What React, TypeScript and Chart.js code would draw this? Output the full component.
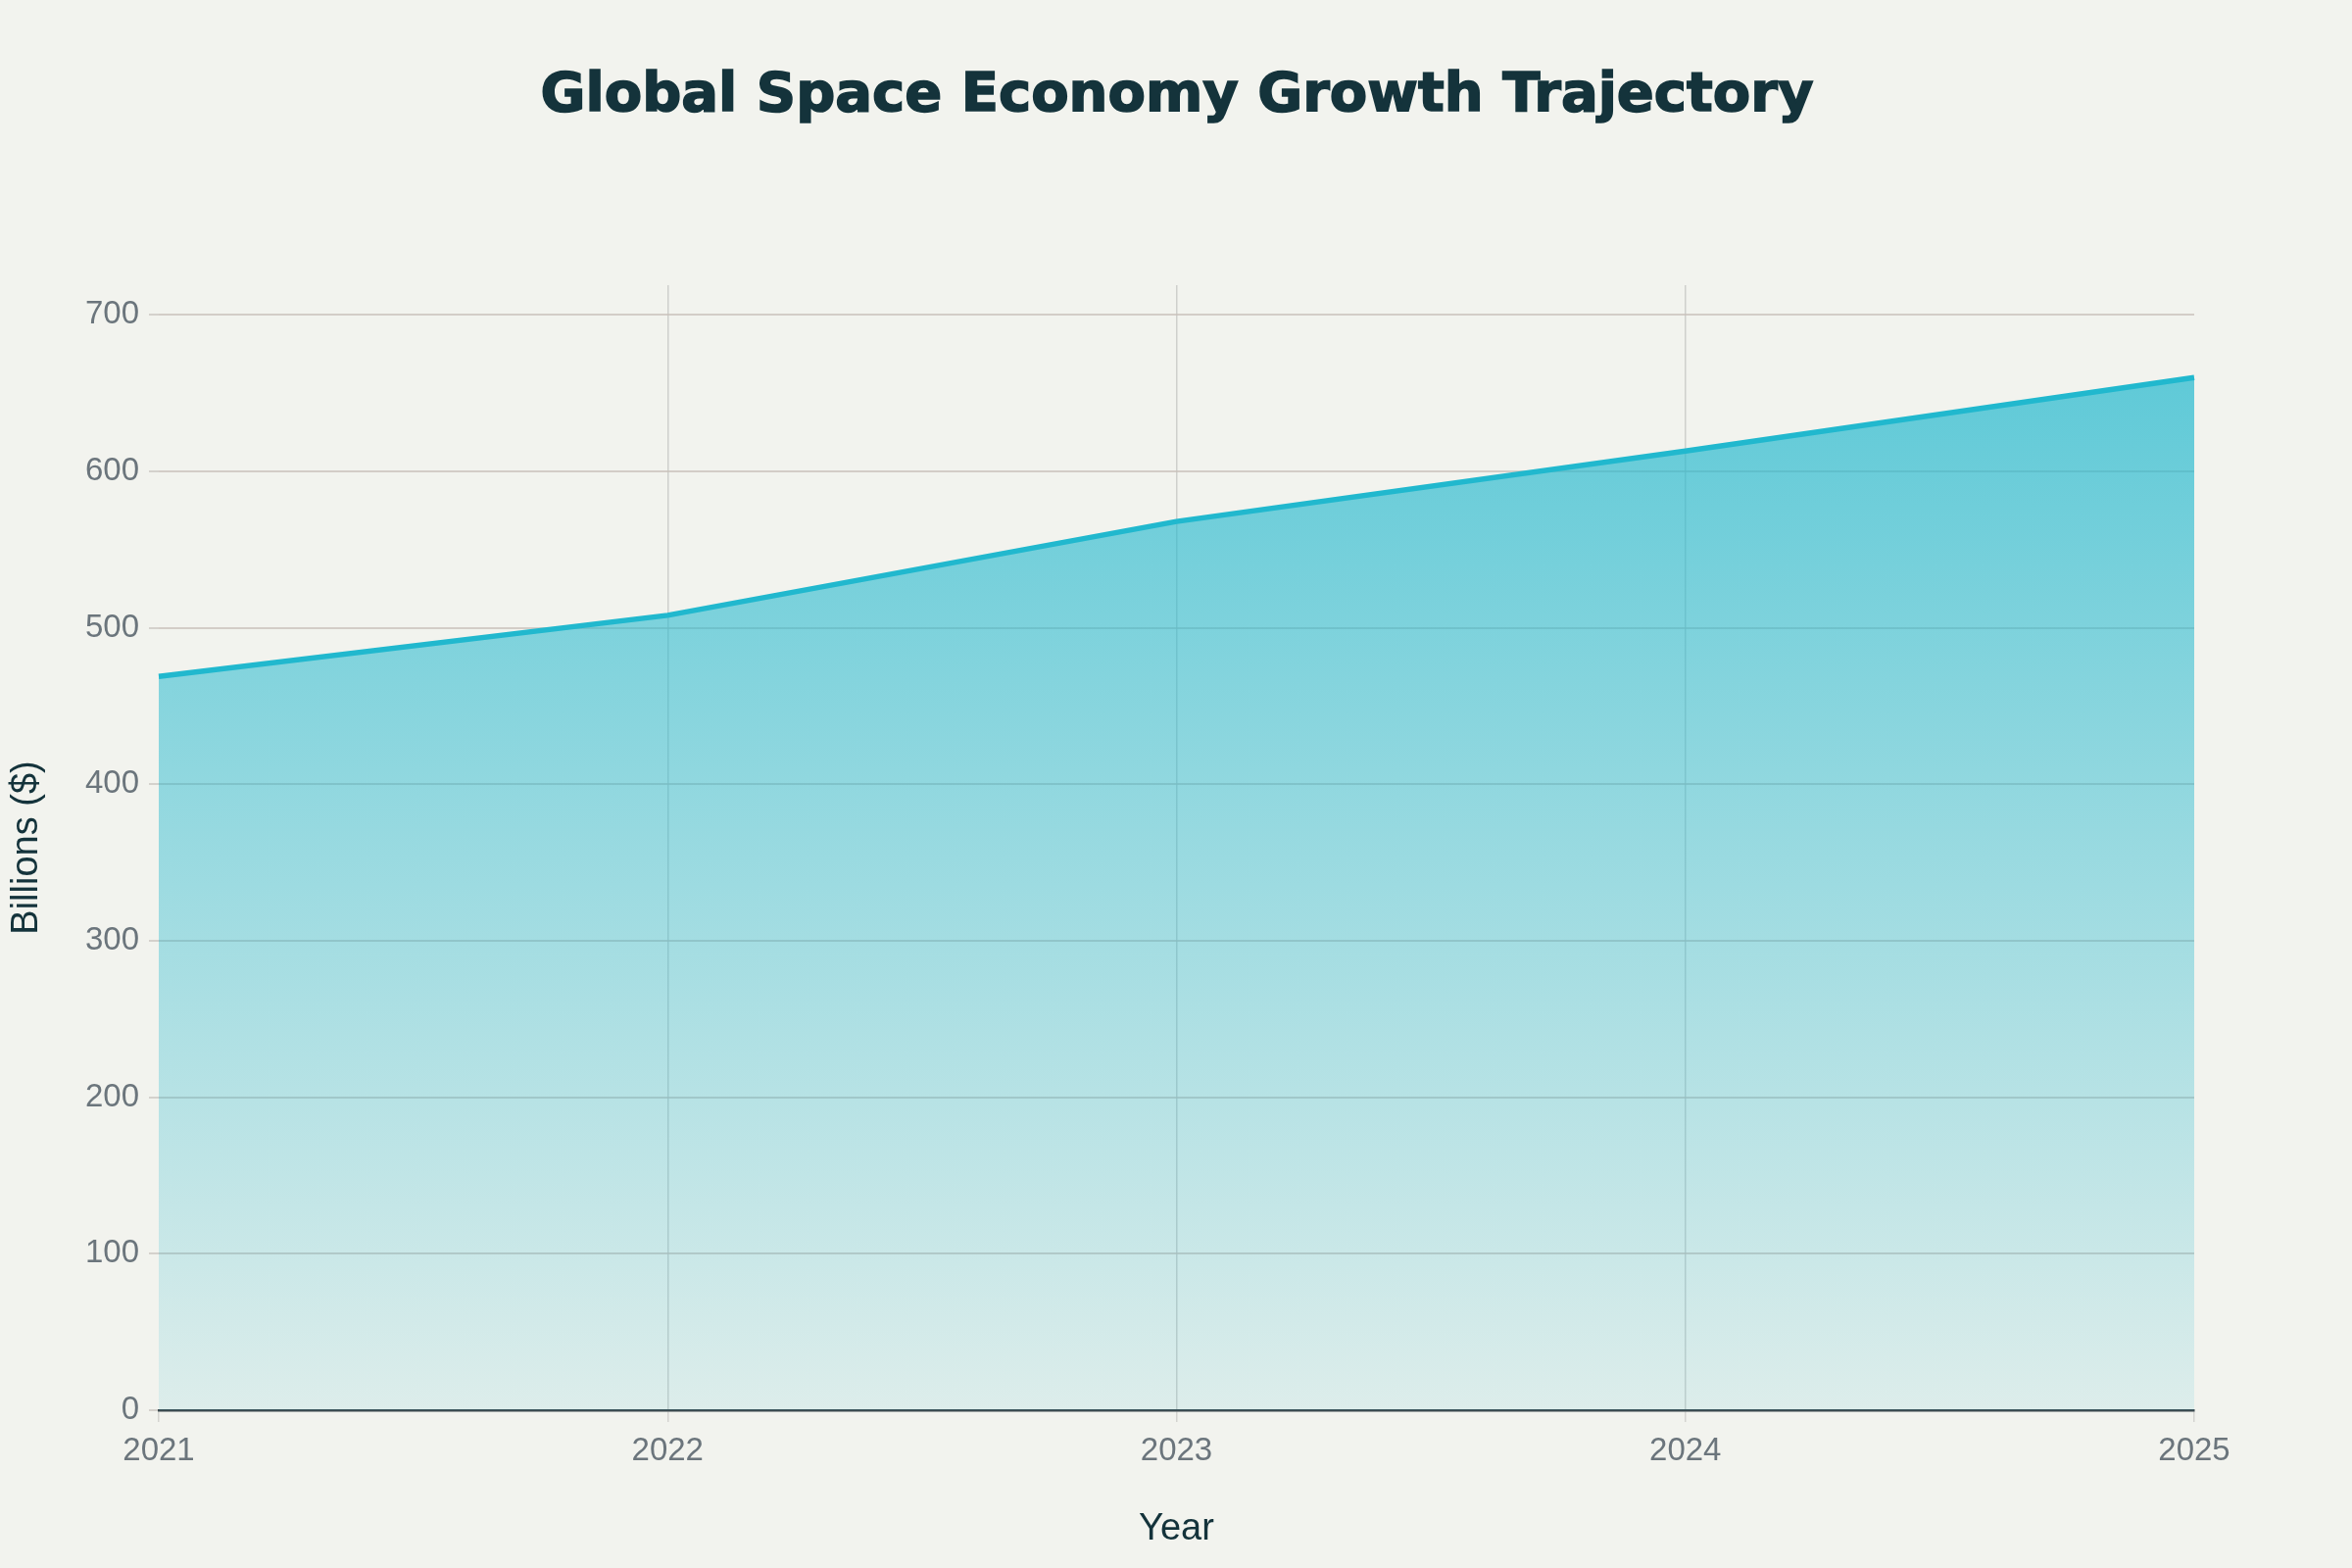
import React, { useEffect, useRef } from "react";
import { Chart, registerables } from "chart.js";

Chart.register(...registerables);

const years: string[] = ["2021", "2022", "2023", "2024", "2025"];
const economyBillions: number[] = [469, 508, 568, 613, 660];
const yTickStep = 100;
const yMax = 719;

const titleText = "Global Space Economy Growth Trajectory";
const xTitle = "Year";
const yTitle = "Billions ($)";

const BG = "#f2f3ee";
const DARK = "#14333b";

const titlePlugin = {
  id: "customTitle",
  afterDraw(chart: any) {
    const ctx = chart.ctx;
    ctx.save();
    ctx.font = "bold 56px 'DejaVu Sans'";
    ctx.fillStyle = DARK;
    ctx.strokeStyle = DARK;
    ctx.lineWidth = 1.6;
    ctx.textAlign = "center";
    ctx.textBaseline = "alphabetic";
    ctx.fillText(titleText, 1201, 113);
    ctx.strokeText(titleText, 1201, 113);
    ctx.restore();
  },
};

const bgPlugin = {
  id: "bgFill",
  beforeDraw(chart: any) {
    const ctx = chart.ctx;
    ctx.save();
    ctx.fillStyle = BG;
    ctx.fillRect(0, 0, chart.width, chart.height);
    ctx.restore();
  },
};

export default function App() {
  const canvasRef = useRef<HTMLCanvasElement | null>(null);

  useEffect(() => {
    document.body.style.margin = "0";
    const canvas = canvasRef.current;
    if (!canvas) return;
    const maxVal = Math.max(...economyBillions);
    const chart = new Chart(canvas, {
      type: "line",
      data: {
        labels: years,
        datasets: [
          {
            data: economyBillions,
            borderColor: "#21b8ce",
            borderWidth: 5.5,
            pointRadius: 0,
            tension: 0,
            fill: "origin",
            backgroundColor: (context: any) => {
              const c = context.chart;
              const { ctx, chartArea, scales } = c;
              if (!chartArea || !scales.y) return "rgba(33,184,206,0.4)";
              const top = scales.y.getPixelForValue(maxVal);
              const bottom = scales.y.getPixelForValue(0);
              const g = ctx.createLinearGradient(0, top, 0, bottom);
              g.addColorStop(0, "rgba(33,184,206,0.70)");
              g.addColorStop(1, "rgba(33,184,206,0.10)");
              return g;
            },
          },
        ],
      },
      options: {
        animation: false,
        responsive: false,
        devicePixelRatio: 1,
        layout: { padding: { top: 291, right: 161, bottom: 0, left: 0 } },
        plugins: {
          legend: { display: false },
          tooltip: { enabled: false },
          title: { display: false },
        },
        scales: {
          x: {
            type: "category",
            offset: false,
            afterFit: (scale: any) => {
              scale.height = 161;
            },
            grid: {
              color: (ctx: any) =>
                ctx.index === 0 || ctx.index === years.length - 1
                  ? "rgba(0,0,0,0)"
                  : "rgba(110,110,110,0.26)",
              lineWidth: 1.5,
              tickColor: "#d4d4d0",
              tickLength: 12,
              drawTicks: true,
            },
            border: { display: true, color: "#3d4a4f", width: 2.5 },
            ticks: {
              color: "#6b757c",
              font: { family: "'Liberation Sans', Arial", size: 33 },
              padding: 10,
              maxRotation: 0,
            },
            title: {
              display: true,
              text: xTitle,
              color: DARK,
              font: { family: "'Liberation Sans', Arial", size: 38 },
              padding: { top: 0, bottom: 17 },
            },
          },
          y: {
            min: 0,
            max: yMax,
            afterFit: (scale: any) => {
              scale.width = 162;
            },
            grid: {
              color: "rgba(200,192,185,0.75)",
              lineWidth: 2,
              tickColor: "#d4d1cc",
              tickLength: 10,
            },
            border: { display: false },
            ticks: {
              stepSize: yTickStep,
              includeBounds: false,
              color: "#6b757c",
              font: { family: "'Liberation Sans', Arial", size: 33 },
              padding: 10,
            },
            title: {
              display: true,
              text: yTitle,
              color: DARK,
              font: { family: "'Liberation Sans', Arial", size: 38 },
              padding: { top: 5, bottom: 0 },
            },
          },
        },
      },
      plugins: [bgPlugin, titlePlugin],
    });
    return () => chart.destroy();
  }, []);

  return (
    <div style={{ position: "absolute", left: 0, top: 0, width: 2400, height: 1600, background: BG }}>
      <canvas ref={canvasRef} width={2400} height={1600} style={{ width: 2400, height: 1600, display: "block" }} />
    </div>
  );
}
